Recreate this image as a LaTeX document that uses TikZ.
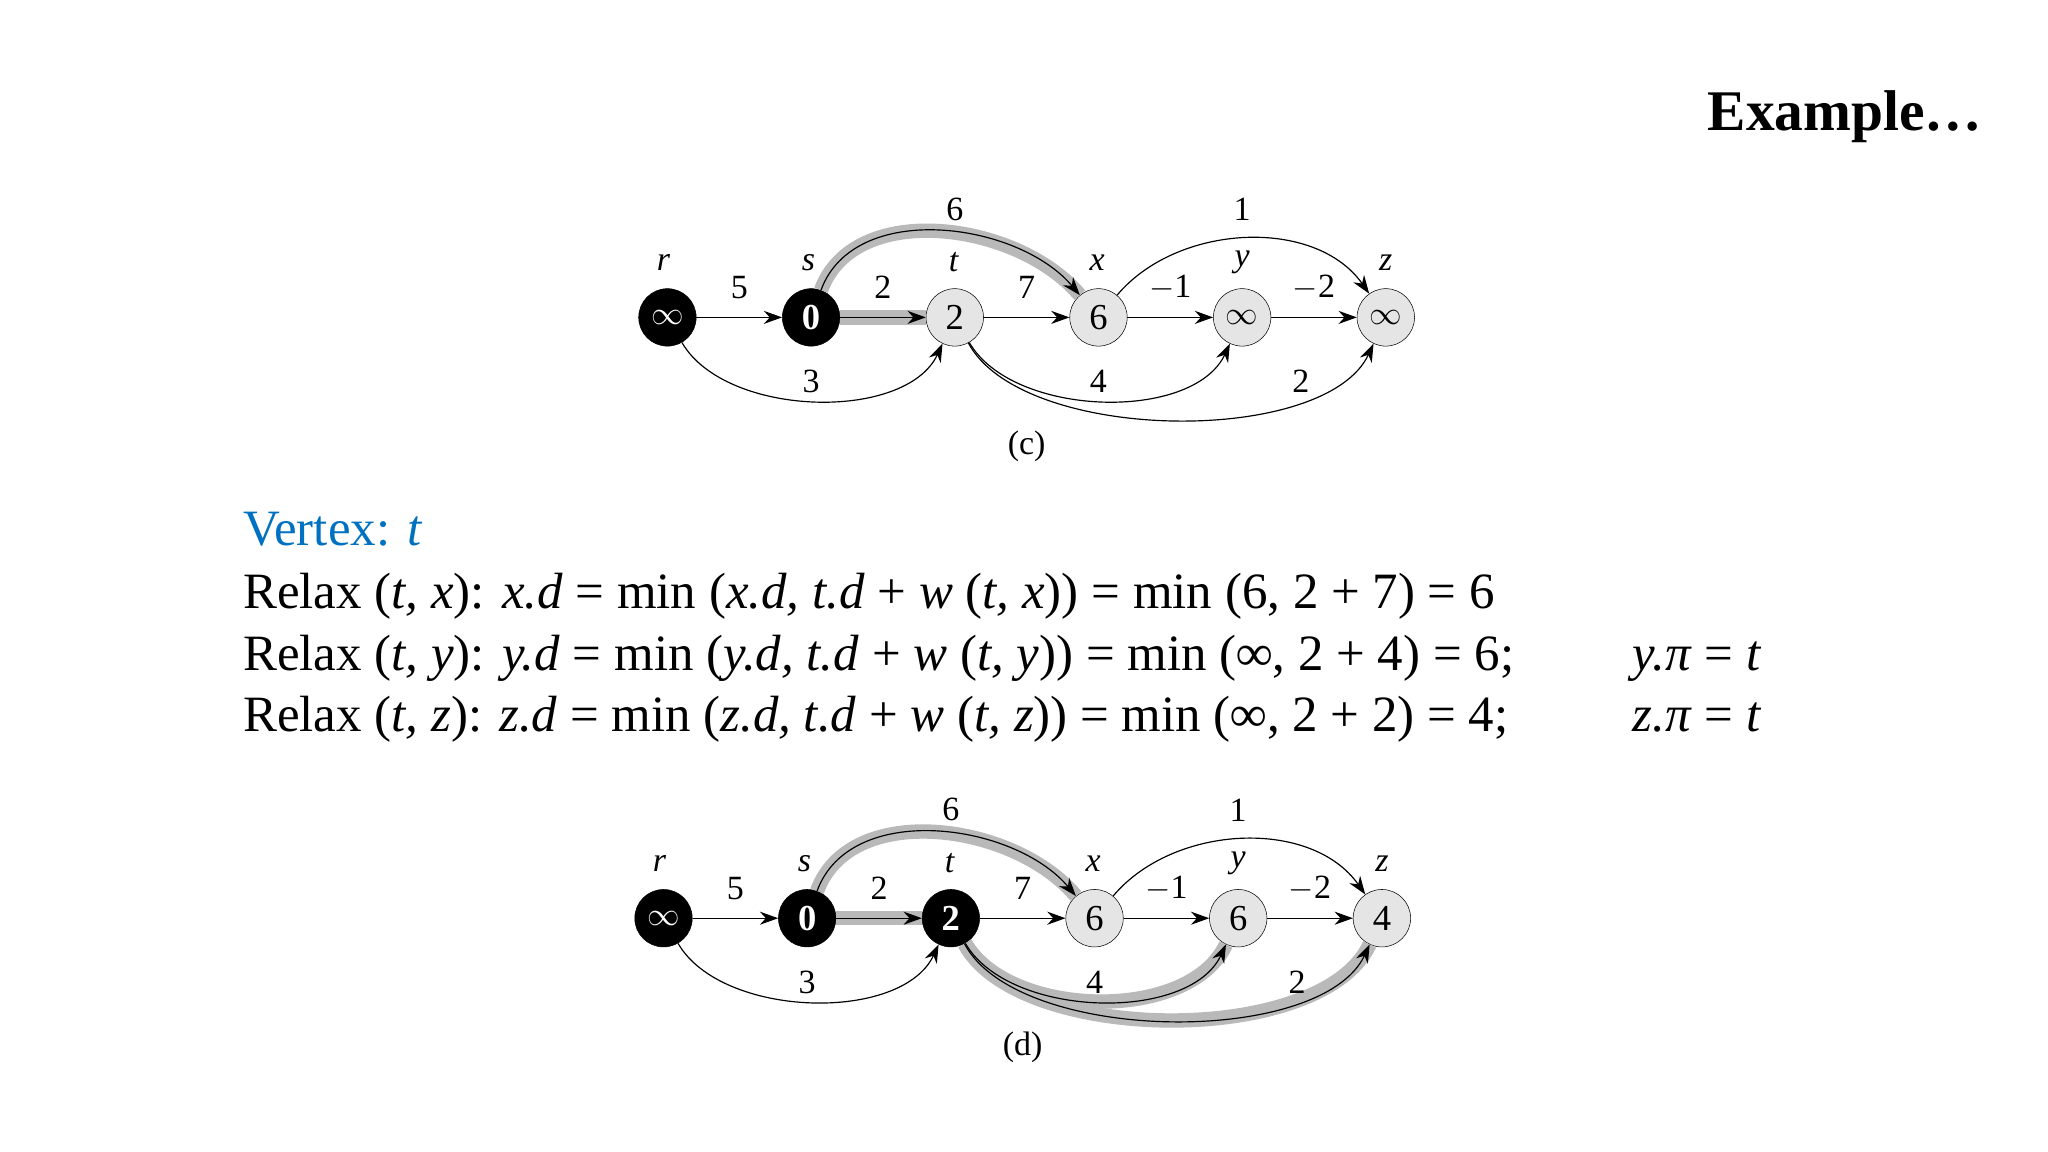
\documentclass[tikz,border=0pt]{standalone}
\usepackage{fontspec}
\setmainfont{Liberation Serif}
\usetikzlibrary{arrows.meta}
\begin{document}
\begin{tikzpicture}[x=1pt,y=-1pt,
  vb/.style={circle,draw=black,fill=black,text=white,minimum size=44pt,inner sep=0pt,font=\fontsize{28}{30}\selectfont\bfseries},
  vg/.style={circle,draw=black,fill=gray!20,minimum size=44pt,inner sep=0pt,font=\fontsize{28}{30}\selectfont},
  lab/.style={font=\fontsize{26}{28}\selectfont},
  nm/.style={font=\fontsize{26}{28}\selectfont\itshape},
  ed/.style={-{Stealth[length=14pt,width=10pt]},line width=0.9pt},
  sh/.style={line width=11pt,draw=gray!55},
  sx/.style={out=70,in=130,looseness=0.95},
  xz/.style={out=50,in=125,looseness=0.95},
  rt/.style={out=-60,in=-115,looseness=0.85},
  ty/.style={out=-60,in=-115,looseness=0.85},
  tz/.style={out=-62,in=-115,looseness=0.72},
  txt/.style={font=\fontsize{39}{44}\selectfont,anchor=base west,inner sep=0pt}]
\useasboundingbox (0,0) rectangle (1568,882);
\node[font=\fontsize{44}{48}\selectfont\bfseries,anchor=base east,inner sep=0pt] (title) at (1518,100) {Example…};
% graph c
\begin{scope}
\node[vb] (r) at (511,243) {$\infty$};
\node[vb] (s) at (621,243) {0};
\node[vg] (t) at (731,243) {2};
\node[vg] (x) at (841,243) {6};
\node[vg] (y) at (951,243) {$\infty$};
\node[vg] (z) at (1061,243) {$\infty$};
\draw[sh] (s) -- (t);
\draw[sh] (s) to[sx] (x);
\draw[ed] (r) -- (s);
\draw[ed] (s) -- (t);
\draw[ed] (t) -- (x);
\draw[ed] (x) -- (y);
\draw[ed] (y) -- (z);
\draw[ed] (s) to[sx] (x);
\draw[ed] (x) to[xz] (z);
\draw[ed] (r) to[rt] (t);
\draw[ed] (t) to[ty] (y);
\draw[ed] (t) to[tz] (z);
\foreach \n/\xx in {r/508,s/619,t/730,x/840,y/951,z/1061}{\node[nm] (l\n c) at (\xx,201) {\n};}
\node[lab] (c5) at (566,220) {5};
\node[lab] (c2) at (676,220) {2};
\node[lab] (c7) at (786,220) {7};
\node[lab] (cm1) at (896,220) {$-$1};
\node[lab] (cm2) at (1006,220) {$-$2};
\node[lab] (c6) at (731,160) {6};
\node[lab] (c1) at (951,160) {1};
\node[lab] (c3) at (621,292) {3};
\node[lab] (c4) at (841,292) {4};
\node[lab] (c2b) at (996,292) {2};
\node[lab] (cc) at (786,342) {(c)};
\end{scope}
% graph d
\begin{scope}[shift={(-3,460)}]
\node[vb] (r) at (511,243) {$\infty$};
\node[vb] (s) at (621,243) {0};
\node[vb] (t) at (731,243) {2};
\node[vg] (x) at (841,243) {6};
\node[vg] (y) at (951,243) {6};
\node[vg] (z) at (1061,243) {4};
\draw[sh] (s) -- (t);
\draw[sh] (s) to[sx] (x);
\draw[sh] (t) to[ty] (y);
\draw[sh] (t) to[tz] (z);
\draw[ed] (r) -- (s);
\draw[ed] (s) -- (t);
\draw[ed] (t) -- (x);
\draw[ed] (x) -- (y);
\draw[ed] (y) -- (z);
\draw[ed] (s) to[sx] (x);
\draw[ed] (x) to[xz] (z);
\draw[ed] (r) to[rt] (t);
\draw[ed] (t) to[ty] (y);
\draw[ed] (t) to[tz] (z);
\foreach \n/\xx in {r/508,s/619,t/730,x/840,y/951,z/1061}{\node[nm] (l\n d) at (\xx,201) {\n};}
\node[lab] (d5) at (566,220) {5};
\node[lab] (d2) at (676,220) {2};
\node[lab] (d7) at (786,220) {7};
\node[lab] (dm1) at (896,220) {$-$1};
\node[lab] (dm2) at (1006,220) {$-$2};
\node[lab] (d6) at (731,160) {6};
\node[lab] (d1) at (951,160) {1};
\node[lab] (d3) at (621,292) {3};
\node[lab] (d4) at (841,292) {4};
\node[lab] (d2b) at (996,292) {2};
\node[lab] (dd) at (786,342) {(d)};
\end{scope}
% text
\node[txt,text={rgb,255:red,0;green,112;blue,192}] (v) at (186,418) {Vertex: \textit{t}};
\node[txt] (l1) at (186,466) {Relax (\textit{t, x}): \textit{x.d} = min (\textit{x.d, t.d} + \textit{w} (\textit{t, x})) = min (6, 2 + 7) = 6};
\node[txt] (l2) at (186,513) {Relax (\textit{t, y}): \textit{y.d} = min (\textit{y.d, t.d} + \textit{w} (\textit{t, y})) = min (\textbf{∞}, 2 + 4) = 6;};
\node[txt] (l3) at (186,560) {Relax (\textit{t, z}): \textit{z.d} = min (\textit{z.d, t.d} + \textit{w} (\textit{t, z})) = min (\textbf{∞}, 2 + 2) = 4;};
\node[txt] (p2) at (1250,513) {\textit{y.π} = \textit{t}};
\node[txt] (p3) at (1250,560) {\textit{z.π} = \textit{t}};
\end{tikzpicture}
\end{document}
